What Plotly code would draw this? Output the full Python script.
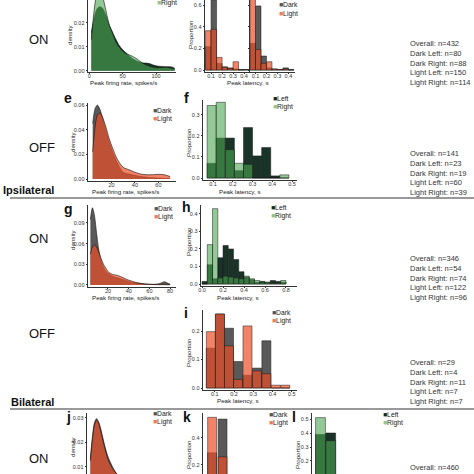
import plotly.graph_objects as go

W = H = 474
FONT = "Liberation Sans"

# ---------------- data ----------------
# a: ON, peak firing rate density, Left vs Right
a_x = [3, 8, 12, 16, 20, 25, 30, 35, 40, 45, 50, 55, 60, 65, 70, 75, 80, 85, 90, 95, 100, 105, 110, 115, 120, 125, 128]
a_left = [0.016, 0.023, 0.026, 0.0267, 0.026, 0.023, 0.019, 0.016, 0.013, 0.0105, 0.0088, 0.0075, 0.0062, 0.005, 0.0042,
          0.0037, 0.0033, 0.0032, 0.0030, 0.0025, 0.0021, 0.0019, 0.0018, 0.0017, 0.0017, 0.0015, 0.001]
a_right = [0.013, 0.027, 0.033, 0.034, 0.031, 0.025, 0.019, 0.0155, 0.012, 0.0098, 0.0082, 0.0072, 0.0066, 0.006, 0.0052,
           0.0042, 0.0032, 0.0025, 0.002, 0.0016, 0.0014, 0.0013, 0.0014, 0.0015, 0.0013, 0.001, 0.0008]

# b: ON, peak latency proportions, Dark vs Light (two facets)
b_x = [0.075, 0.125, 0.175, 0.225, 0.275, 0.325, 0.375, 0.425]
b1_dark = [0.216, 0.65, 0.062, 0.03, 0.02, 0.01, 0.005, 0.005]
b1_light = [0.364, 0.377, 0.117, 0.025, 0.015, 0.077, 0.0, 0.005]
b2_dark = [0.247, 0.593, 0.13, 0.02, 0.01, 0.005, 0.02, 0.005]
b2_light = [0.68, 0.19, 0.062, 0.077, 0.01, 0.005, 0.01, 0.0]

# e: OFF density, Dark vs Light
e_x = [4, 6, 8, 10, 12, 15, 18, 21, 25, 30, 35, 40, 45, 50, 55, 60, 65, 70]
e_dark = [0.045, 0.057, 0.06, 0.057, 0.051, 0.04, 0.03, 0.022, 0.013, 0.0055, 0.004, 0.003, 0.002, 0.0015, 0.001, 0.0008, 0.0006, 0.0005]
e_light = [0.022, 0.042, 0.052, 0.0535, 0.051, 0.043, 0.033, 0.025, 0.016, 0.0095, 0.0075, 0.0055, 0.004, 0.0035, 0.0035, 0.0038, 0.0035, 0.002]

# f: OFF latency, Left vs Right
f_x = [0.093, 0.139, 0.185, 0.231, 0.277, 0.323, 0.369, 0.415, 0.461]
f_left = [0.07, 0.19, 0.19, 0.035, 0.24, 0.105, 0.145, 0.01, 0.0]
f_right = [0.345, 0.36, 0.135, 0.07, 0.065, 0.0, 0.0, 0.0, 0.015]

# g: Ipsilateral ON density, Dark vs Light
g_x = [3, 5, 7, 9, 11, 13, 15, 18, 21, 24, 27, 30, 34, 38, 42, 46, 50, 55, 60, 65, 70, 73, 75, 77, 80]
g_dark = [0.095, 0.112, 0.1, 0.075, 0.052, 0.037, 0.028, 0.02, 0.016, 0.013, 0.011, 0.01, 0.008, 0.006, 0.004, 0.003, 0.0025,
          0.0015, 0.001, 0.001, 0.002, 0.004, 0.0045, 0.003, 0.001]
g_light = [0.045, 0.055, 0.058, 0.055, 0.048, 0.04, 0.032, 0.024, 0.018, 0.0155, 0.0145, 0.0135, 0.011, 0.008, 0.006, 0.004,
           0.0025, 0.0015, 0.0008, 0.0005, 0.0004, 0.0004, 0.0004, 0.0003, 0.0002]

# h: Ipsilateral ON latency, Left vs Right
h_x = [0.025, 0.075, 0.125, 0.175, 0.225, 0.275, 0.325, 0.375, 0.425, 0.475, 0.525, 0.575, 0.625, 0.675, 0.725, 0.775]
h_left = [0.015, 0.11, 0.03, 0.15, 0.22, 0.2, 0.14, 0.07, 0.04, 0.025, 0.01, 0.015, 0.01, 0.02, 0.015, 0.01]
h_right = [0.0, 0.225, 0.43, 0.035, 0.045, 0.04, 0.035, 0.03, 0.045, 0.03, 0.02, 0.01, 0.01, 0.005, 0.005, 0.02]

# i: Ipsilateral OFF latency, Dark vs Light
i_x = [0.08, 0.127, 0.174, 0.221, 0.27, 0.319, 0.368, 0.417, 0.466]
i_dark = [0.14, 0.26, 0.21, 0.093, 0.045, 0.07, 0.166, 0.0, 0.0]
i_light = [0.198, 0.26, 0.148, 0.03, 0.218, 0.06, 0.05, 0.01, 0.01]

# j: Bilateral ON density, Dark vs Light
j_x = [3, 6, 9, 12, 15, 18, 21, 24, 27, 30, 35, 40, 50, 60, 80, 100, 120]
j_dark = [0.0135, 0.022, 0.028, 0.0297, 0.0285, 0.026, 0.0225, 0.019, 0.016, 0.0135, 0.0105, 0.008, 0.005, 0.003, 0.0015, 0.001, 0.0005]
j_light = [0.0125, 0.021, 0.027, 0.029, 0.028, 0.025, 0.0215, 0.018, 0.015, 0.0125, 0.0098, 0.0078, 0.005, 0.0032, 0.0016, 0.001, 0.0005]

# k: Bilateral ON latency, Dark vs Light
k_x = [0.092, 0.146]
k_dark = [0.29, 0.54]
k_light = [0.553, 0.26]

# l: Bilateral ON latency, Left vs Right
l_x = [0.1, 0.16]
l_left = [0.39, 0.40]
l_right = [0.51, 0.345]

row_labels = ["ON", "OFF", "ON", "OFF", "ON"]
section_labels = ["Ipsilateral", "Bilateral"]
count_blocks = [
    ["Overall: n=432", "Dark Left: n=80", "Dark Right: n=88", "Light Left: n=150", "Light Right: n=114"],
    ["Overall: n=141", "Dark Left: n=23", "Dark Right: n=19", "Light Left: n=60", "Light Right: n=39"],
    ["Overall: n=346", "Dark Left: n=54", "Dark Right: n=74", "Light Left: n=122", "Light Right: n=96"],
    ["Overall: n=29", "Dark Left: n=4", "Dark Right: n=11", "Light Left: n=7", "Light Right: n=7"],
    ["Overall: n=460", "Dark Left: n=44"],
]

# ---------------- style ----------------
C_LEFT = "rgba(14,40,30,0.95)"
C_RIGHT = "rgba(75,165,80,0.6)"
C_DARK = "rgba(60,60,60,0.85)"
C_LIGHT = "rgba(235,80,40,0.7)"
KEY_LEFT, KEY_RIGHT, KEY_DARK, KEY_LIGHT = "#10291f", "#8cc68c", "#555555", "#ee7a58"

fig = go.Figure()
layout = {}


def px_x(x):
    return min(max(x / W, 0), 1)


def px_y(y):
    return min(max(1 - y / H, 0), 1)


def add_axes(n, box, xr, yr, xt, yt, xfmt, yfmt, ylabels=True, xlabels=True):
    x0, x1, y0, y1 = box
    common = dict(showline=True, linecolor="#333", linewidth=0.8, ticks="outside", ticklen=1.5,
                  tickwidth=0.6, tickcolor="#333", tickfont=dict(size=5.5, color="#333", family=FONT),
                  showgrid=False, zeroline=False, fixedrange=True, automargin=False)
    sfx = "" if n == 1 else str(n)
    layout["xaxis" + sfx] = dict(domain=[px_x(x0), px_x(x1)], range=xr, anchor="y" + sfx,
                                 tickvals=xt, tickformat=xfmt, showticklabels=xlabels,
                                 ticklabelstandoff=-3, **common)
    layout["yaxis" + sfx] = dict(domain=[px_y(y1), px_y(y0)], range=yr, anchor="x" + sfx,
                                 tickvals=yt, tickformat=yfmt, showticklabels=ylabels, **common)
    return "x" + sfx, "y" + sfx


def density(ax, xs, ys, fill):
    fig.add_trace(go.Scatter(x=xs, y=ys, mode="lines", fill="tozeroy", fillcolor=fill,
                             line=dict(color="#111", width=0.6, shape="spline", smoothing=0.8),
                             xaxis=ax[0], yaxis=ax[1], showlegend=False, hoverinfo="skip"))


def bars(ax, xs, ys, color, width):
    fig.add_trace(go.Bar(x=xs, y=ys, width=width, marker=dict(color=color, line=dict(color="#1a1a1a", width=0.5)),
                         xaxis=ax[0], yaxis=ax[1], showlegend=False, hoverinfo="skip"))


annotations = []


def text(x, y, s, size=6.2, anchor="center", yanchor="middle", bold=False, angle=0, color="#222"):
    annotations.append(dict(x=x / W, y=1 - y / H, xref="paper", yref="paper", text=s, showarrow=False,
                            xanchor=anchor, yanchor=yanchor, textangle=angle, align="left", borderpad=0,
                            font=dict(size=size, family=FONT, color=color,
                                      weight="bold" if bold else "normal")))


def legend(x, y, names, colors):
    for k, (nm, c) in enumerate(zip(names, colors)):
        text(x, y + 9 * k, f'<span style="color:{c}">■</span>{nm}', size=6.8, anchor="left")


# a
ax = add_axes(1, (88, 176, 0, 72), [-2, 130], [-0.0005, 0.0295], [0, 50, 100], [0, 0.01, 0.02], "d", ".2f")
density(ax, a_x, a_left, C_LEFT)
density(ax, a_x, a_right, C_RIGHT)
legend(156, 3, ["Right"], [KEY_RIGHT])
text(123, 82, "Peak firing rate, spikes/s")
text(70, 35, "density", angle=-90)

# b
ax = add_axes(2, (205, 249, 0, 72), [0.045, 0.445], [-0.018, 0.648], [0.1, 0.2, 0.3, 0.4], [0, 0.2, 0.4, 0.6], ".1f", ".1f")
bars(ax, b_x, b1_dark, C_DARK, 0.05)
bars(ax, b_x, b1_light, C_LIGHT, 0.05)
ax = add_axes(3, (250, 295, 0, 72), [0.05, 0.46], [-0.018, 0.648], [0.1, 0.2, 0.3, 0.4], [0, 0.2, 0.4, 0.6], ".1f", ".1f", ylabels=False)
bars(ax, b_x, b2_dark, C_DARK, 0.05)
bars(ax, b_x, b2_light, C_LIGHT, 0.05)
legend(278, 5, ["Dark", "Light"], [KEY_DARK, KEY_LIGHT])
text(248, 82, "Peak latency, s")
text(191, 35, "Proportion", angle=-90)

# e
ax = add_axes(4, (88, 176, 103, 181), [0, 75], [-0.0016, 0.0617], [20, 40, 60], [0, 0.02, 0.04, 0.06], "d", ".2f")
density(ax, e_x, e_dark, C_DARK)
density(ax, e_x, e_light, C_LIGHT)
legend(152, 110, ["Dark", "Light"], [KEY_DARK, KEY_LIGHT])
text(125, 191.5, "Peak firing rate, spikes/s")
text(72, 142, "density", angle=-90)
text(68, 98, "e", size=14, bold=True, color="#111")

# f
ax = add_axes(5, (203, 297, 100, 180), [0.049, 0.525], [-0.0095, 0.371], [0.1, 0.2, 0.3, 0.4, 0.5], [0, 0.1, 0.2, 0.3], ".1f", ".1f")
bars(ax, f_x, f_left, C_LEFT, 0.046)
bars(ax, f_x, f_right, C_RIGHT, 0.046)
legend(272, 98, ["Left", "Right"], [KEY_LEFT, KEY_RIGHT])
text(240, 191, "Peak latency, s")
text(188, 143, "Proportion", angle=-90)
text(186, 98, "f", size=14, bold=True, color="#111")

# g
ax = add_axes(6, (88, 176, 205, 287), [0.7, 85.7], [-0.003, 0.116], [20, 40, 60, 80], [0, 0.03, 0.06, 0.09], "d", ".2f")
density(ax, g_x, g_dark, C_DARK)
density(ax, g_x, g_light, C_LIGHT)
legend(153, 208, ["Dark", "Light"], [KEY_DARK, KEY_LIGHT])
text(125, 297.5, "Peak firing rate, spikes/s")
text(72, 240, "density", angle=-90)
text(68, 209, "g", size=14, bold=True, color="#111")

# h
ax = add_axes(7, (201, 297, 205, 286), [-0.01, 0.905], [-0.0114, 0.451], [0, 0.2, 0.4, 0.6, 0.8], [0, 0.1, 0.2, 0.3, 0.4], ".1f", ".1f")
bars(ax, h_x, h_left, C_LEFT, 0.05)
bars(ax, h_x, h_right, C_RIGHT, 0.05)
legend(270, 207, ["Left", "Right"], [KEY_LEFT, KEY_RIGHT])
text(238, 297.5, "Peak latency, s")
text(188, 242, "Proportion", angle=-90)
text(186, 207, "h", size=14, bold=True, color="#111")

# i
ax = add_axes(8, (203, 297, 310, 390), [0.039, 0.527], [-0.007, 0.274], [0.1, 0.2, 0.3, 0.4, 0.5], [0, 0.1, 0.2], ".1f", ".1f")
bars(ax, i_x, i_dark, C_DARK, 0.047)
bars(ax, i_x, i_light, C_LIGHT, 0.047)
legend(271, 312, ["Dark", "Light"], [KEY_DARK, KEY_LIGHT])
text(238, 400.5, "Peak latency, s")
text(188, 353, "Proportion", angle=-90)
text(186, 313, "i", size=14, bold=True, color="#111")

# j
ax = add_axes(9, (87, 176, 413, 474), [-2, 130], [0.0071, 0.032], [0, 50, 100], [0.01, 0.02, 0.03], "d", ".2f", xlabels=False)
density(ax, j_x, j_dark, C_DARK)
density(ax, j_x, j_light, C_LIGHT)
legend(152, 413, ["Dark", "Light"], [KEY_DARK, KEY_LIGHT])
text(72, 447, "density", angle=-90)
text(68, 417, "j", size=14, bold=True, color="#111")

# k
ax = add_axes(10, (203, 297, 413, 474), [0.045, 0.53], [0.133, 0.585], [0.1, 0.2], [0.2, 0.4], ".1f", ".1f", xlabels=False)
bars(ax, k_x, k_dark, C_DARK, 0.046)
bars(ax, k_x, k_light, C_LIGHT, 0.046)
legend(268, 414, ["Dark", "Light"], [KEY_DARK, KEY_LIGHT])
text(188, 455, "Proportion", angle=-90)
text(187, 417, "k", size=14, bold=True, color="#111")

# l
ax = add_axes(11, (312, 380, 413, 474), [0.05, 0.45], [0.107, 0.543], [0.1, 0.2], [0.2, 0.3, 0.4, 0.5], ".1f", ".1f", xlabels=False)
bars(ax, l_x, l_left, C_LEFT, 0.058)
bars(ax, l_x, l_right, C_RIGHT, 0.058)
legend(382, 414, ["Left", "Right"], [KEY_LEFT, KEY_RIGHT])
text(297, 455, "Proportion", angle=-90)
text(294, 417, "l", size=14, bold=True, color="#111")

# row labels
for lab, y in zip(row_labels, [40, 147, 238, 333, 458]):
    text(28, y, lab, size=13, anchor="left", color="#111")

# section headers
for lab, y in zip(section_labels, [190, 402]):
    text(55, y, lab, size=11, anchor="right", bold=True, color="#111")
shapes = [dict(type="line", xref="paper", yref="paper", x0=px_x(10), x1=1, y0=px_y(yy), y1=px_y(yy),
               line=dict(color="#777", width=1.5)) for yy in [198, 409]]

# count text blocks
for blk, y in zip(count_blocks, [43, 153, 258, 362, 467]):
    text(409, y - 5, "<br>".join(blk), size=7.5, anchor="left", yanchor="top", color="#333")

fig.update_layout(width=W, height=H, margin=dict(l=0, r=0, t=0, b=0, autoexpand=False), paper_bgcolor="white",
                  plot_bgcolor="white", barmode="overlay", showlegend=False, template="none",
                  annotations=annotations, shapes=shapes, font=dict(family=FONT), **layout)
fig.write_html("out.html")
